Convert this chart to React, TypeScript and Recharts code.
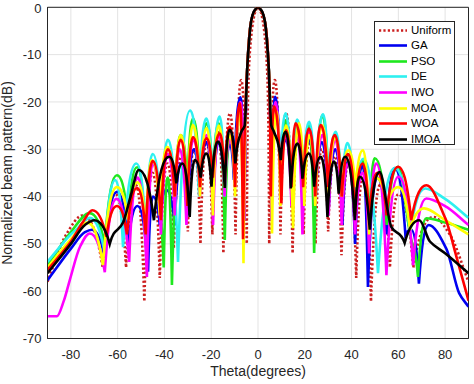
import { CartesianGrid, Line, LineChart, ReferenceArea, XAxis, YAxis } from "recharts";

type Pt = [number, number];

const X_TICKS = [-80, -60, -40, -20, 0, 20, 40, 60, 80];
const Y_TICKS = [-70, -60, -50, -40, -30, -20, -10, 0];

// shared main lobe of the optimised arrays
const MAIN: Pt[] = [[-4.5, -12], [-3, -3.2], [-1.5, -0.8], [0, 0], [1.5, -0.8], [3, -3.2], [4.5, -12]];

const UNIFORM: Pt[] = [
  [-90, -58], [-82, -48], [-75, -44], [-66.4, -55], [-61, -39.5], [-56.4, -55], [-52.3, -37.5], [-48.6, -62.2],
  [-45.1, -35], [-42, -57.2], [-38.7, -33], [-36, -51], [-32.8, -31.5], [-30, -47.4], [-27.3, -30], [-24.6, -50],
  [-22, -28.5], [-19.5, -48], [-17, -26], [-14.8, -52], [-12, -22.4], [-9.6, -48], [-7.2, -15.4], [-4.8, -50],
  [-4, -14.5], [-3, -6.6], [-2, -2.7], [-1, -0.7], [0, 0], [1, -0.7], [2, -2.7], [3, -6.6], [4, -14.5],
  [4.8, -50], [7.2, -15.4], [9.6, -48], [12, -22.4], [14.8, -52], [17, -26], [19.5, -48], [22, -28.5],
  [24.6, -50], [27.3, -30], [30, -47.4], [32.8, -31.5], [35.7, -52.4], [38.7, -33], [42, -57.2], [45.1, -35],
  [48.3, -62.2], [52.3, -37.5], [56.4, -55], [60, -39.5], [66.4, -55], [75, -44.3], [82, -48], [90, -58],
];

const GA: Pt[] = [
  [-90, -57.7], [-80, -51], [-74, -47.5], [-71, -47], [-65.5, -53], [-60.3, -39], [-55.5, -50], [-51.5, -42],
  [-47, -55.9], [-44.9, -40], [-42, -46], [-39.2, -38.6], [-35.6, -46], [-33, -33], [-30.2, -44], [-27.5, -30],
  [-24.9, -39], [-22, -28.5], [-19.3, -42], [-16.8, -28.5], [-14.3, -40], [-12, -29], [-10.3, -36.5], [-7.5, -19],
  [-5.8, -45], ...MAIN, [5.8, -45], [7.3, -18.9], [9.6, -36], [11.8, -28], [14.3, -38], [16.8, -27.5], [19.3, -40],
  [21.8, -28], [24.5, -42], [27.3, -28.5], [30.2, -43], [33, -30], [36.1, -46], [38.5, -32.5], [41.5, -50],
  [44.7, -33.5], [47, -59.1], [51, -36], [55, -48], [58.4, -34], [63, -48], [65.5, -47], [68.8, -58.4],
  [73, -46], [80.5, -51], [86, -60.4], [90, -63.3],
];

const PSO: Pt[] = [
  [-90, -54.5], [-80, -47.5], [-72, -43.5], [-65.5, -50], [-60.3, -35.5], [-55.5, -45], [-51.7, -33.8], [-48, -50],
  [-45, -33], [-40.3, -55], [-38.6, -36], [-36.8, -58.7], [-33, -27], [-30.2, -38], [-27.8, -23.5], [-24.8, -38],
  [-22, -24.5], [-19.3, -37], [-16.8, -24.5], [-14.2, -49.2], [-12, -27], [-9.8, -35], [-7.5, -22], [-5.8, -42],
  ...MAIN, [5.8, -42], [7.5, -22], [9.6, -36], [11.8, -24], [14.3, -40], [16.8, -25], [19.3, -36], [21.8, -25],
  [24, -51.9], [27.5, -22.9], [30.2, -38], [33, -27], [35.8, -40], [38.5, -31], [41.5, -42], [44.7, -32.5],
  [47.5, -48], [49.9, -31.9], [55, -46], [59.9, -33.7], [65, -48], [68.4, -57], [72, -44.6], [80, -45.5], [90, -47],
];

const DE: Pt[] = [
  [-90, -53.8], [-80, -48], [-77.7, -47], [-72, -44.5], [-65.5, -52], [-61, -36.5], [-57.7, -50.7], [-52, -33],
  [-48, -47], [-45, -31], [-41.5, -45], [-38.5, -28], [-34.2, -53.8], [-29, -21.8], [-25.2, -40], [-22.1, -23.5],
  [-19.3, -39], [-16.4, -23.1], [-14.3, -40], [-12, -27], [-9.8, -36], [-7.5, -21], [-5.8, -40], ...MAIN,
  [5.8, -40], [7.5, -21], [9.6, -35], [11.8, -22.4], [14.3, -39.5], [16.8, -23.7], [19.3, -38], [21.8, -24.2],
  [24.5, -40], [27.8, -22.6], [30.2, -39], [33.2, -26.3], [35.8, -42], [38.2, -28.7], [41.5, -44], [45, -32],
  [51.3, -56.2], [58.5, -34], [65, -48], [71.5, -38.3], [80, -40.5], [90, -44.5],
];

const IWO: Pt[] = [
  [-90, -65.3], [-86, -65.3], [-83, -62], [-80.5, -57.7], [-76, -50.5], [-72, -47.8], [-65.5, -56], [-60.5, -40.5],
  [-55.1, -53.8], [-51.5, -36], [-47.5, -57], [-45, -33], [-41.5, -48], [-38.5, -31], [-35.6, -44], [-33.5, -30],
  [-30.6, -46], [-27.5, -28], [-24.8, -40], [-22, -27], [-19.2, -46], [-16.8, -27], [-14.3, -40], [-12, -28],
  [-9.8, -38], [-7.5, -20], [-5.8, -45], ...MAIN, [5.8, -45], [7.5, -20], [9.6, -40], [11.8, -27], [14.3, -42],
  [16.8, -27], [19, -48], [21.8, -26], [24.5, -42], [27.5, -27], [30.2, -44], [33, -28], [35.8, -46], [38.5, -33],
  [41.5, -48], [44.7, -35], [47.5, -52], [50.5, -33], [54.9, -56.6], [60, -35.8], [66.3, -54.5], [72, -40.4],
  [80, -42], [90, -46],
];

const MOA: Pt[] = [
  [-90, -55], [-80, -49], [-73, -45.5], [-66.3, -54.5], [-60.3, -38], [-55.5, -45], [-51.5, -37], [-48, -47],
  [-45.3, -32.3], [-42, -44], [-38.8, -29.5], [-35.6, -40], [-33, -27], [-30.2, -42], [-27.8, -24.9], [-24.8, -40],
  [-22, -25.5], [-19.3, -44], [-16.8, -25], [-14.3, -38], [-12, -27], [-9.8, -40], [-8, -22], [-6.2, -54.1],
  ...MAIN, [6, -47.8], [7.8, -22], [9.6, -42], [12, -25], [15, -46.7], [17.5, -24.5], [19.8, -42], [22, -27],
  [24.5, -42], [27.5, -25], [30.2, -40], [33, -27.5], [35.8, -40], [38.5, -30.2], [41.7, -38], [44.9, -30.2],
  [47.5, -48], [50.5, -36], [55, -42], [60, -38], [65, -47], [71, -42.5], [80, -45], [90, -48],
];

const WOA: Pt[] = [
  [-90, -55.5], [-80, -49.5], [-75, -45.5], [-70.8, -42.9], [-64.8, -48.5], [-60.3, -42], [-56, -48], [-51.7, -38.2],
  [-48, -48], [-45, -32.5], [-41.5, -45], [-38.5, -30], [-35.6, -40], [-33, -28], [-30.2, -42], [-27.8, -27.4],
  [-24.8, -38], [-22, -27.7], [-19.3, -36], [-16.4, -26.7], [-14.3, -36], [-12.1, -25.2], [-9.8, -38], [-7.8, -20.3],
  [-6.4, -49], ...MAIN, [5.5, -40], [6.9, -21], [10, -41.4], [12, -26], [14.3, -38], [16.1, -24.5], [19.3, -38],
  [21.8, -25.6], [24.5, -40], [26.8, -24.9], [30, -38], [32.8, -27], [35.8, -40], [38.5, -31], [41.5, -44],
  [44.7, -33], [47.5, -45], [51, -35], [55, -44], [59.9, -33.7], [65.5, -45], [72, -37.6], [80, -44.5], [85, -53],
  [90, -62],
];

const IMOA: Pt[] = [
  [-90, -56.2], [-80, -50], [-74, -46], [-70, -45], [-63.4, -50], [-57.7, -45.5], [-54.5, -40], [-51, -34.4],
  [-44.5, -45], [-38, -31.6], [-34.9, -37.2], [-32.3, -33], [-29.2, -44.3], [-27, -32.3], [-24.5, -36], [-22, -30.9],
  [-19.9, -37.9], [-17.1, -28.4], [-14.2, -38.2], [-12.1, -25.9], [-9.7, -33], [-7.1, -26.3], [-5.7, -25],
  [-4.4, -11.1], [-2.85, -2.7], [-1.5, -0.7], [0, 0], [1.5, -0.7], [2.85, -2.7], [4.4, -11.1], [5.7, -25],
  [6.8, -26.3], [9.7, -32.3], [11.8, -26.3], [14, -38.3], [16.8, -28.8], [19, -36.2], [21.8, -30.9], [24, -37.9],
  [26.8, -31.6], [29.7, -44.3], [32.5, -32.6], [34.5, -39.4], [37.3, -31.6], [41.4, -45], [43.5, -35.8],
  [47.8, -47], [52, -34.8], [57, -46.4], [62.7, -49.8], [69, -45], [73.5, -49.5], [80, -52], [90, -56.2],
];

const SERIES = [
  { name: "Uniform", color: "#cc1f1f", points: UNIFORM, dotted: true },
  { name: "GA", color: "#0000f0", points: GA },
  { name: "PSO", color: "#1ee81e", points: PSO },
  { name: "DE", color: "#2ef0f0", points: DE },
  { name: "IWO", color: "#ff00ff", points: IWO },
  { name: "MOA", color: "#ffff00", points: MOA },
  { name: "WOA", color: "#ff0000", points: WOA },
  { name: "IMOA", color: "#000000", points: IMOA },
];

const FONT = '"Liberation Sans", Arial, Helvetica, sans-serif';
const AXIS = "#262626";

// beam-pattern curve: rounded lobes, sharp cusps at the nulls
function lobeCurve(context: any) {
  let xs: number[] = [];
  let ys: number[] = [];
  const secant = (i: number) => (ys[i + 1] - ys[i]) / (xs[i + 1] - xs[i] || 1e-6);
  return {
    areaStart() {},
    areaEnd() {},
    lineStart() {
      xs = [];
      ys = [];
    },
    point(x: number, y: number) {
      xs.push(+x);
      ys.push(+y);
    },
    lineEnd() {
      const n = xs.length;
      if (!n) return;
      context.moveTo(xs[0], ys[0]);
      if (n === 1) return;
      const mIn: number[] = new Array(n).fill(0);
      const mOut: number[] = new Array(n).fill(0);
      for (let i = 0; i < n; i++) {
        if (i === 0 || i === n - 1) {
          const s = secant(i === 0 ? 0 : n - 2);
          mIn[i] = mOut[i] = s;
          continue;
        }
        const s0 = secant(i - 1);
        const s1 = secant(i);
        if (ys[i] > ys[i - 1] && ys[i] > ys[i + 1]) {
          // null (lowest dB is largest pixel y): cusp
          mIn[i] = 2.4 * s0;
          mOut[i] = 2.4 * s1;
        } else if (s0 * s1 <= 0) {
          mIn[i] = mOut[i] = 0;
        } else {
          const m = (2 * s0 * s1) / (s0 + s1);
          mIn[i] = mOut[i] = m;
        }
      }
      for (let i = 0; i < n - 1; i++) {
        const h = (xs[i + 1] - xs[i]) / 3;
        context.bezierCurveTo(
          xs[i] + h,
          ys[i] + mOut[i] * h,
          xs[i + 1] - h,
          ys[i + 1] - mIn[i + 1] * h,
          xs[i + 1],
          ys[i + 1],
        );
      }
    },
  };
}

export default function App() {
  return (
    <div style={{ position: "absolute", left: 0, top: 0, width: 474, height: 384, background: "#fff", fontFamily: FONT }}>
      <LineChart width={474} height={384} margin={{ top: 7.3, right: 5.5, bottom: 0, left: 0 }}>
        <CartesianGrid stroke="#e3e3e3" strokeWidth={1} />
        <XAxis
          type="number"
          dataKey="x"
          domain={[-90, 90]}
          ticks={X_TICKS}
          allowDataOverflow
          height={45.5}
          tickSize={0}
          tickMargin={11}
          axisLine={{ stroke: AXIS }}
          tick={{ fill: AXIS, fontSize: 13, fontFamily: FONT }}
        />
        <YAxis
          type="number"
          domain={[-70, 0]}
          ticks={Y_TICKS}
          allowDataOverflow
          width={47.5}
          tickSize={0}
          tickMargin={6}
          axisLine={{ stroke: AXIS }}
          tick={{ fill: AXIS, fontSize: 13, fontFamily: FONT }}
        />
        {SERIES.map((s) => (
          <Line
            key={s.name}
            data={s.points.map(([x, y]) => ({ x, y }))}
            dataKey="y"
            type={lobeCurve as any}
            stroke={s.color}
            strokeWidth={2.6}
            strokeDasharray={s.dotted ? "2.2 2.2" : undefined}
            dot={false}
            activeDot={false}
            isAnimationActive={false}
          />
        ))}
        <ReferenceArea x1={-90} x2={90} y1={-70} y2={0} fill="none" stroke={AXIS} strokeWidth={1} ifOverflow="visible" />
      </LineChart>

      <svg width={474} height={384} style={{ position: "absolute", left: 0, top: 0, pointerEvents: "none" }}>
        <text x={258} y={376} textAnchor="middle" fontSize={14} fill={AXIS} fontFamily={FONT}>
          Theta(degrees)
        </text>
        <text x={12} y={173} textAnchor="middle" fontSize={14} fill={AXIS} fontFamily={FONT} transform="rotate(-90 12 173)">
          Normalized beam pattern(dB)
        </text>
      </svg>

      <div
        style={{
          position: "absolute",
          left: 374,
          top: 20.7,
          width: 81,
          height: 124.5,
          background: "#fff",
          border: `1px solid ${AXIS}`,
          boxSizing: "border-box",
        }}
      >
        {SERIES.map((s, i) => (
          <div key={s.name} style={{ position: "absolute", left: 0, top: 1 + i * 15.57, height: 15, width: 80, display: "flex", alignItems: "center" }}>
            <svg width={34} height={15} style={{ flex: "none" }}>
              <line
                x1={4}
                x2={32}
                y1={7.5}
                y2={7.5}
                stroke={s.color}
                strokeWidth={2.6}
                strokeDasharray={s.dotted ? "2.2 2.2" : undefined}
              />
            </svg>
            <span style={{ fontSize: 11.5, color: "#000", marginLeft: 2, lineHeight: "15px" }}>{s.name}</span>
          </div>
        ))}
      </div>
    </div>
  );
}
